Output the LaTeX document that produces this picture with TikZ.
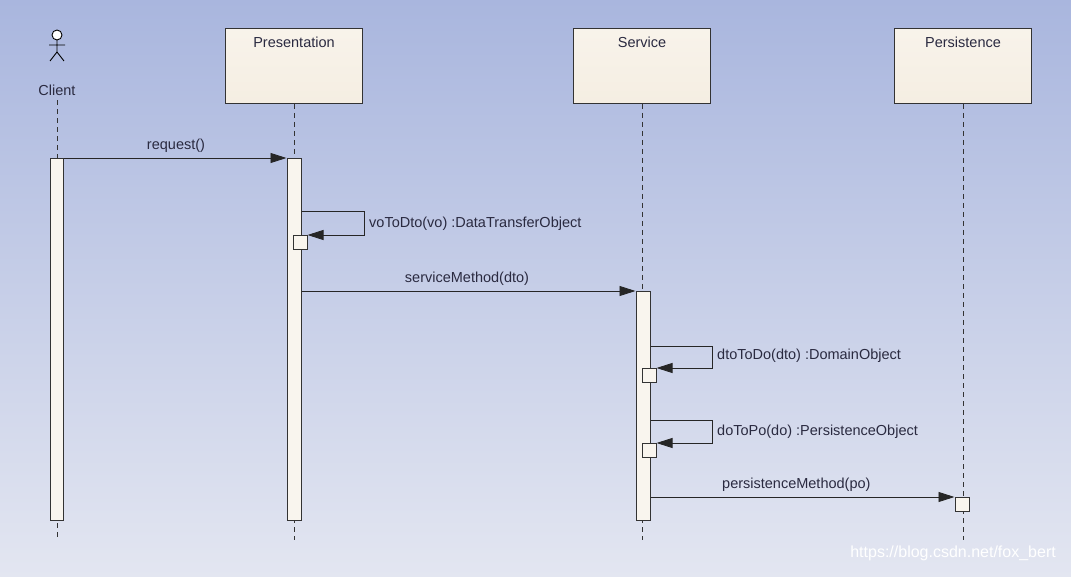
\documentclass[tikz,border=0pt]{standalone}
\usepackage{fontspec}
\setmainfont{Liberation Sans}
\usetikzlibrary{arrows.meta}
\definecolor{bgtop}{HTML}{A9B6DE}
\definecolor{bgbot}{HTML}{E3E6F1}
\definecolor{boxfill}{HTML}{F5EEE2}
\definecolor{txt}{HTML}{2A2A40}
\begin{document}
\begin{tikzpicture}[x=1pt,y=-1pt,
  lbl/.style={font=\fontsize{14.5}{16}\selectfont,text=txt,inner sep=0pt},
  obj/.style={draw=black!80,line width=1pt,top color=boxfill!70!white,bottom color=boxfill,minimum width=137pt,minimum height=75pt,anchor=north},
  life/.style={draw=black!80,line width=0.8pt,dash pattern=on 5pt off 4pt},
  act/.style={draw=black!80,line width=1pt,fill=boxfill!60!white},
  msg/.style={draw=black!85,line width=0.9pt,-{Triangle[length=16pt,width=10pt]}}]
\useasboundingbox (0,0) rectangle (1071,577);
\shade[top color=bgtop,bottom color=bgbot] (0,0) rectangle (1071,577);
% objects
\node[obj] (pres) at (294,28) {};
\node[lbl,anchor=north] at (294,37) {Presentation};
\node[obj] (serv) at (642,28) {};
\node[lbl,anchor=north] at (642,37) {Service};
\node[obj] (pers) at (963,28) {};
\node[lbl,anchor=north] at (963,37) {Persistence};
% actor
\draw[line width=0.9pt,fill=white] (57,35) circle (5);
\draw[line width=0.9pt] (57,40) -- (57,52) (49,45) -- (65,45) (50,61) -- (57,52) -- (64,61);
\node[lbl,anchor=north] (client) at (57,85) {Client};
% lifelines
\coordinate (ce) at (57,540);
\coordinate (pe) at (294,540);
\coordinate (se) at (642,540);
\coordinate (qe) at (963,540);
\draw[life] (client.south) ++(0,4) -- (ce);
\draw[life] (pres.south) -- (pe);
\draw[life] (serv.south) -- (se);
\draw[life] (pers.south) -- (qe);
% activations
\node[act,minimum width=13pt,minimum height=362pt,anchor=north,inner sep=0pt] (ca) at (57,158) {};
\node[act,minimum width=14pt,minimum height=362pt,anchor=north,inner sep=0pt] (pa) at (294,158) {};
\node[act,minimum width=14pt,minimum height=229pt,anchor=north,inner sep=0pt] (sa) at (643,291) {};
\node[act,minimum width=14pt,minimum height=14pt,anchor=north,inner sep=0pt] (qa) at (962,497) {};
\node[act,minimum width=14pt,minimum height=14pt,anchor=north,inner sep=0pt] (pb) at (300,235) {};
\node[act,minimum width=14pt,minimum height=14pt,anchor=north,inner sep=0pt] (sb) at (649,368) {};
\node[act,minimum width=14pt,minimum height=14pt,anchor=north,inner sep=0pt] (sc) at (649,443) {};
% messages
\draw[msg] (ca.north east) -- (pa.north west);
\node[lbl,anchor=south] at (176,153) {request()};
\draw[msg] (pa.east |- 0,211) -- (364,211) -- (364,235) -- (pb.north east);
\node[lbl,anchor=west] at (369,224) {voToDto(vo) :DataTransferObject};
\draw[msg] (pa.east |- 0,291) -- (sa.north west);
\node[lbl,anchor=south] at (467,286) {serviceMethod(dto)};
\draw[msg] (sa.east |- 0,346) -- (712,346) -- (712,368) -- (sb.north east);
\node[lbl,anchor=west] at (717,356) {dtoToDo(dto) :DomainObject};
\draw[msg] (sa.east |- 0,420) -- (712,420) -- (712,443) -- (sc.north east);
\node[lbl,anchor=west] at (717,432) {doToPo(do) :PersistenceObject};
\draw[msg] (sa.east |- 0,497) -- (qa.north west);
\node[lbl,anchor=south west] at (722,492) {persistenceMethod(po)};
\node[font=\fontsize{16}{18}\selectfont,text=white,anchor=east,inner sep=0pt] (wm) at (1056,553) {https://blog.csdn.net/fox\_bert};
\end{tikzpicture}
\end{document}
